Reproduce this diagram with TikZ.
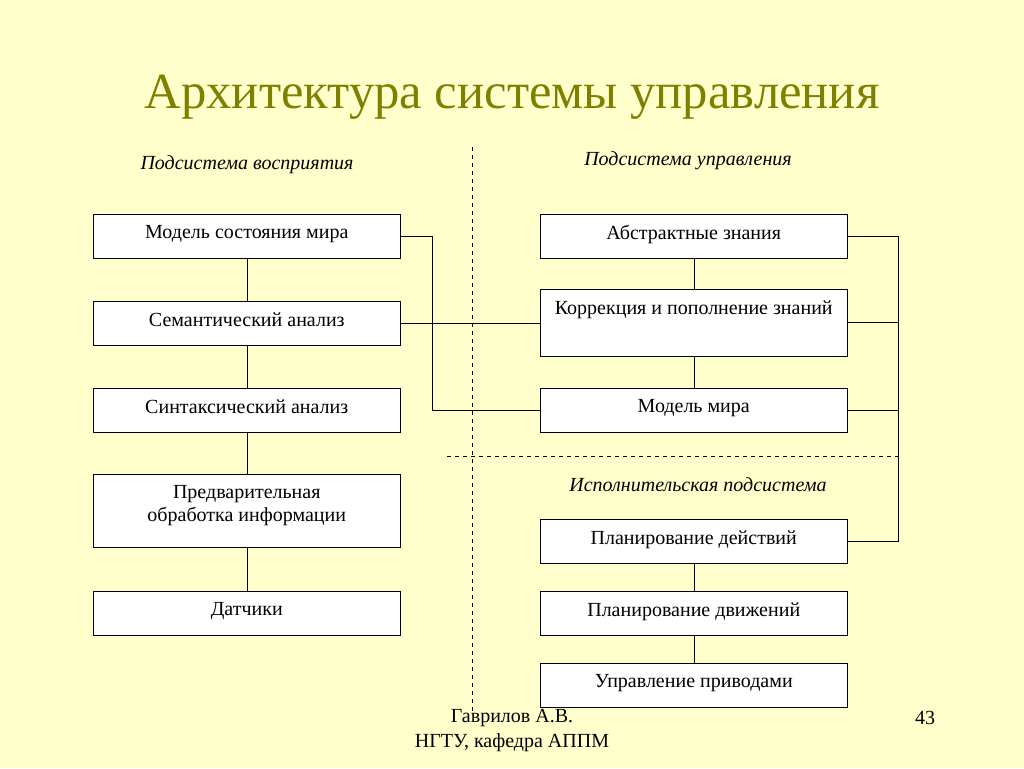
\documentclass[tikz,border=0pt]{standalone}
\usepackage{fontspec}
\setmainfont{Liberation Serif}
\usepackage{xcolor}
\definecolor{slidebg}{HTML}{FFFFCC}
\definecolor{titleol}{HTML}{808000}
\begin{document}
\begin{tikzpicture}[
          x=0.75pt, y=-0.75pt,
          every node/.style={font=\fontsize{15}{17.5}\selectfont},
          box/.style={draw, fill=white, minimum width=230.25pt, anchor=north west, inner sep=0pt},
          lbl/.style={below=5pt, align=center},
          sub/.style={font=\fontsize{15}{17.5}\selectfont\itshape},
          line/.style={thin},
          sep/.style={dashed, thin}
      ]
      \fill[slidebg] (0,0) rectangle (1024,768);
      \useasboundingbox (0,0) rectangle (1024,768);

      % Title
      \node[text=titleol, font=\fontsize{38}{44}\selectfont] (title) at (512,97) {Архитектура системы управления};
      \node[sub] (perc) at (247,165) {Подсистема восприятия};
      \node[sub] (ctrl) at (688,161) {Подсистема управления};
      \node[sub] (exec) at (698,485) {Исполнительская подсистема};

      % Left column
      \node[box, minimum height=33pt] (world) at (93,214) {};
      \node[lbl] at (world.north) {Модель состояния мира};
      \node[box, minimum height=33pt] (sem) at (93,301) {};
      \node[lbl] at (sem.north) {Семантический анализ};
      \node[box, minimum height=33pt] (syn) at (93,388) {};
      \node[lbl] at (syn.north) {Синтаксический анализ};
      \node[box, minimum height=55pt] (pre) at (93,474) {};
      \node[lbl] at (pre.north) {Предварительная\\обработка информации};
      \node[box, minimum height=33pt] (sens) at (93,591) {};
      \node[lbl] at (sens.north) {Датчики};

      % Right column
      \node[box, minimum height=33pt] (abs) at (540,214) {};
      \node[lbl] at (abs.north) {Абстрактные знания};
      \node[box, minimum height=50pt] (corr) at (540,289) {};
      \node[lbl] at (corr.north) {Коррекция и пополнение знаний};
      \node[box, minimum height=33pt] (wm) at (540,388) {};
      \node[lbl] at (wm.north) {Модель мира};
      \node[box, minimum height=33pt] (act) at (540,519) {};
      \node[lbl] at (act.north) {Планирование действий};
      \node[box, minimum height=33pt] (mov) at (540,591) {};
      \node[lbl] at (mov.north) {Планирование движений};
      \node[box, minimum height=33pt] (drv) at (540,663) {};
      \node[lbl] at (drv.north) {Управление приводами};

      % Links
      \draw[line] (world) -- (sem);
      \draw[line] (sem) -- (syn);
      \draw[line] (syn) -- (pre);
      \draw[line] (pre) -- (sens);
      \draw[line] (abs) -- (corr);
      \draw[line] (corr) -- (wm);
      \draw[line] (act) -- (mov);
      \draw[line] (mov) -- (drv);
      \draw[line] (world.east) -- ++(32,0) |- (wm.west);
      \draw[line] (sem.east) -- (sem.east -| corr.west);
      \coordinate (rb) at (898,0);
      \draw[line] (abs.east) -- (abs.east -| rb) |- (act.east);
      \draw[line] (corr.east) -- (corr.east -| rb);
      \draw[line] (wm.east) -- (wm.east -| rb);

      % Separators
      \coordinate (vt) at (472,147);
      \coordinate (vb) at (472,712);
      \draw[sep] (vt) -- (vb);
      \coordinate (hl) at (447,456);
      \coordinate (hr) at (898,456);
      \draw[sep] (hl) -- (hr);

      % Footer
      \node (auth) at (512,718) {Гаврилов А.В.};
      \node (dept) at (512,743) {НГТУ, кафедра АППМ};
      \node (page) at (925,718) {43};
\end{tikzpicture}
\end{document}
